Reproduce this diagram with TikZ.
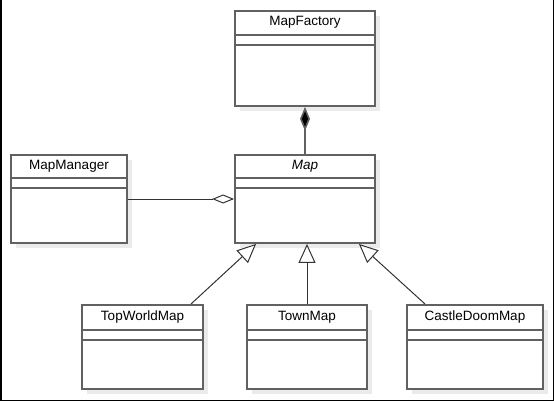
\documentclass[tikz,border=0pt]{standalone}
\usepackage{fontspec}
\setmainfont{Liberation Sans}
\usetikzlibrary{arrows.meta,calc,shadows}
\tikzset{
  umlbox/.style={draw=black!62, line width=1.8pt, fill=white, inner sep=0pt,
    general shadow={fill=black!8, shadow xshift=5pt, shadow yshift=-5pt}},
  comp/.style={draw=black!62, line width=1.6pt},
  title/.style={font=\fontsize{13.5}{15}\selectfont, inner sep=0pt, text=black},
  conn/.style={draw=black!80, line width=1pt},
  inherit/.style={conn, -{Triangle[open, length=19pt, width=17pt, fill=white]}},
  aggr/.style={conn, -{Diamond[open, length=22pt, width=9pt, fill=white]}},
  compo/.style={draw=black!62, line width=1.6pt, -{Diamond[length=24pt, width=10pt, fill=black]}}
}
\newcommand{\umlclass}[8]{%
  % #1 name, #2 cx, #3 cy, #4 width, #5 height, #6 title, #7 header h, #8 attr h
  \node[umlbox, minimum width=#4pt, minimum height=#5pt] (#1) at (#2,#3) {};
  \node[title] (#1t) at ($(#1.north)+(0,#7/2)$) {#6};
  \draw[comp] ($(#1.north west)+(0,#7)$) -- ($(#1.north east)+(0,#7)$);
  \draw[comp] ($(#1.north west)+(0,#7+#8)$) -- ($(#1.north east)+(0,#7+#8)$);
}
\begin{document}
\begin{tikzpicture}[x=1pt,y=-1pt]
\useasboundingbox (0,0) rectangle (554,401);
\draw[black, line width=1.5pt] (0.75,0) -- (0.75,400.25) -- (553.25,400.25) -- (553.25,0);

\umlclass{mf}{305}{58.5}{140}{95}{MapFactory}{25}{10}
\umlclass{map}{305}{199}{140}{88}{\itshape Map}{24}{10}
\umlclass{mm}{69}{199}{116}{88}{MapManager}{24}{10}
\umlclass{tw}{142.5}{347}{121}{84}{TopWorldMap}{26}{10}
\umlclass{tm}{307}{347}{120}{84}{TownMap}{26}{10}
\umlclass{cd}{475}{347}{136}{84}{CastleDoomMap}{26}{10}

\draw[compo] (map.north) -- (mf.south);
\draw[aggr] (mm.east) -- (map.west);
\draw[inherit] ($(tw.north east)+(-13,0)$) -- ($(map.south west)+(22,0)$);
\draw[inherit] (tm.north) -- (tm.north |- map.south);
\draw[inherit] ($(cd.north west)+(19,0)$) -- ($(map.south east)+(-17,0)$);
\end{tikzpicture}
\end{document}
